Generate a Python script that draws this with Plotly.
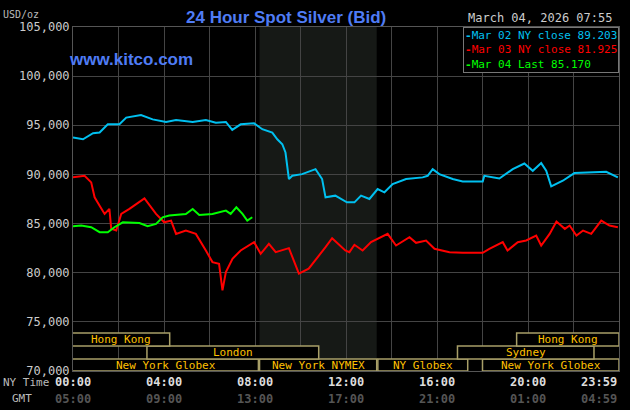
import plotly.graph_objects as go

# Mar 02 NY close series (hours NY time, price)
mar02_hours = [0, .44, .88, 1.17, 1.53, 2.04, 2.34, 2.99, 3.5, 4.09, 4.53, 5.26, 5.84, 6.28, 6.72, 7.0, 7.37, 7.96,
               8.32, 8.76, 8.98, 9.2, 9.34, 9.49, 9.64, 10.07, 10.66, 10.95, 11.1, 11.53, 12.04, 12.37, 12.66, 13.03,
               13.39, 13.69, 14.05, 14.64, 15.37, 15.59, 15.81, 16.1, 16.69, 17.13, 18.01, 18.08, 18.74, 19.33,
               19.84, 20.21, 20.58, 20.8, 21.02, 21.53, 22.04, 22.7, 23.44, 23.95]
mar02_price = [93750, 93580, 94190, 94260, 95100, 95100, 95780, 96050, 95600, 95340, 95540, 95340, 95540, 95270,
               95340, 94530, 95100, 95200, 94600, 94260, 93580, 93070, 92230, 89530, 89860, 90030, 90540, 89530,
               87670, 87840, 87160, 87160, 87840, 87500, 88510, 88180, 89020, 89530, 89700, 89860, 90540, 90030,
               89530, 89290, 89290, 89860, 89590, 90540, 91110, 90370, 91150, 90370, 88780, 89360, 90140, 90200,
               90270, 89700]

mar03_hours = [0, .51, .8, .95, 1.17, 1.39, 1.6, 1.68, 1.9, 2.12, 2.48, 3.14, 3.65, 4.01, 4.31, 4.53, 4.96, 5.4,
               5.84, 6.13, 6.42, 6.57, 6.72, 7.01, 7.37, 7.96, 8.25, 8.61, 8.91, 9.49, 9.93, 10.36, 11.1, 11.39,
               11.97, 12.15, 12.37, 12.73, 13.1, 13.83, 14.2, 14.79, 15.08, 15.52, 15.89, 16.55, 17.13, 18.01,
               18.3, 18.89, 19.1, 19.55, 19.92, 20.36, 20.58, 20.95, 21.25, 21.62, 21.83, 22.13, 22.42, 22.78,
               23.22, 23.58, 23.95]
mar03_price = [89700, 89860, 89190, 87670, 86820, 85980, 86490, 84460, 84290, 85980, 86490, 87570, 85980, 85130,
               85300, 83950, 84290, 83950, 82260, 81080, 80910, 78210, 80070, 81420, 82260, 83110, 81920, 82940,
               82090, 82500, 79900, 80410, 82600, 83510, 82260, 82090, 82840, 82260, 83110, 83950, 82770, 83610,
               83040, 83280, 82430, 82090, 82030, 82030, 82430, 83110, 82260, 83110, 83280, 83780, 82770, 83950,
               85200, 84460, 84800, 83780, 84290, 83950, 85300, 84800, 84630]

mar04_hours = [0, .36, .8, 1.17, 1.53, 1.82, 2.19, 2.92, 3.28, 3.65, 3.94, 4.23, 4.96, 5.26, 5.55, 6.13, 6.72,
               6.93, 7.18, 7.45, 7.66, 7.88]
mar04_price = [84730, 84800, 84630, 84120, 84120, 84630, 85130, 85060, 84730, 84970, 85640, 85810, 85980, 86490,
               85880, 85980, 86320, 85980, 86660, 85980, 85300, 85640]

series_names = ["Mar 02 NY close 89.203", "Mar 03 NY close 81.925", "Mar 04 Last 85.170"]
series_colors = ["#00c0f0", "#ff0000", "#00ff00"]

# trading sessions: label, start hour, end hour, row (0 = bottom)
session_names = ["New York Globex", "New York NYMEX", "NY Globex", "New York Globex", "London", "Sydney",
                 "Hong Kong", "Hong Kong"]
session_start = [-0.3, 8.2, 13.4, 18.0, 3.25, 16.9, -0.3, 19.5]
session_end = [8.15, 13.35, 17.35, 24.0, 10.8, 22.9, 4.25, 24.0]
session_row = [0, 0, 0, 0, 1, 1, 2, 2]
row_edges = [70000, 71220, 72540, 73870]

tick_hours = [0, 4, 8, 12, 16, 20, 24]
ny_labels = ["00:00", "04:00", "08:00", "12:00", "16:00", "20:00", "23:59"]
gmt_labels = ["05:00", "09:00", "13:00", "17:00", "21:00", "01:00", "04:59"]
y_ticks = [70000, 75000, 80000, 85000, 90000, 95000, 100000, 105000]

mono = "DejaVu Sans Mono"
fig = go.Figure()
for hx, py, c in zip([mar02_hours, mar03_hours, mar04_hours], [mar02_price, mar03_price, mar04_price],
                     series_colors):
    fig.add_trace(go.Scatter(x=hx, y=py, mode="lines", line=dict(color=c, width=2), showlegend=False))

# NYMEX shaded period
fig.add_shape(type="rect", x0=8.2, x1=13.35, y0=70000, y1=105000, fillcolor="#161916",
              line=dict(width=0), layer="below")

for name, s, e, r in zip(session_names, session_start, session_end, session_row):
    fig.add_shape(type="rect", x0=s, x1=e, y0=row_edges[r], y1=row_edges[r + 1],
                  line=dict(color="#a89f68", width=1.5), fillcolor="black")
    fig.add_annotation(x=(max(s, 0) + e) / 2, y=(row_edges[r] + row_edges[r + 1]) / 2, text=name,
                       showarrow=False, font=dict(family=mono, size=11, color="#ffc000"))

# time labels, two rows
for i, (h, n, g) in enumerate(zip(tick_hours, ny_labels, gmt_labels)):
    anchor = "right" if i == len(tick_hours) - 1 else "center"
    fig.add_annotation(x=h, y=0, yref="paper", yanchor="top", yshift=-2, xanchor=anchor, text="<b>" + n + "</b>",
                       showarrow=False, font=dict(family=mono, size=12, color="#dddddd"))
    fig.add_annotation(x=h, y=0, yref="paper", yanchor="top", yshift=-19, xanchor=anchor, text="<b>" + g + "</b>",
                       showarrow=False, font=dict(family=mono, size=12, color="#555555"))
fig.add_annotation(x=0, y=0, xref="paper", yref="paper", xanchor="left", yanchor="top", yshift=-3, xshift=-72,
                   text="NY Time", showarrow=False, font=dict(family=mono, size=11, color="#bbbbbb"))
fig.add_annotation(x=0, y=0, xref="paper", yref="paper", xanchor="left", yanchor="top", yshift=-19, xshift=-63,
                   text="GMT", showarrow=False, font=dict(family=mono, size=11, color="#bbbbbb"))
fig.add_annotation(x=0, y=1, xref="paper", yref="paper", xanchor="left", yanchor="bottom", xshift=-72, yshift=5,
                   text="USD/oz", showarrow=False, font=dict(family=mono, size=10, color="#bbbbbb"))
fig.add_annotation(x=0, y=0.94, xref="paper", yref="paper", xanchor="left", xshift=-6, text="<b>www.kitco.com</b>",
                   showarrow=False, font=dict(family="Liberation Sans", size=17, color="#4f7cf5"))
fig.add_annotation(x=0.39, y=1.0, xref="paper", yref="paper", yanchor="bottom", yshift=-2,
                   text="<b>24 Hour Spot Silver (Bid)</b>", showarrow=False,
                   font=dict(family="Liberation Sans", size=17, color="#4f7cf5"))
fig.add_annotation(x=1.0, y=1.0, xref="paper", yref="paper", xanchor="right", yanchor="bottom", xshift=-4,
                   text="March 04, 2026 07:55", showarrow=False, font=dict(family=mono, size=12, color="#cccccc"))

# legend box
legend_text = "<br>".join("<span style='color:%s'><b>-</b>%s</span>" % (c, n)
                          for n, c in zip(series_names, series_colors))
fig.add_annotation(x=1, y=1, xref="paper", yref="paper", xanchor="right", yanchor="top", align="left",
                   text=legend_text, showarrow=False, bgcolor="black", bordercolor="#777777", borderwidth=1,
                   borderpad=1, font=dict(family=mono, size=11))

fig.update_layout(
    width=630, height=410, margin=dict(l=73, r=11, t=27, b=39),
    paper_bgcolor="black", plot_bgcolor="black",
    font=dict(family=mono, color="#cccccc"), showlegend=False,
    xaxis=dict(range=[0, 24], tickvals=list(range(0, 25, 2)), showticklabels=False, showgrid=True,
               gridcolor="#444444", zeroline=False, showline=True, linecolor="#555555", mirror=True,
               automargin=False),
    yaxis=dict(range=[70000, 105000], tickvals=y_ticks, tickformat=",d", gridcolor="#444444", zeroline=False,
               showline=True, linecolor="#555555", mirror=True, automargin=False,
               tickfont=dict(family=mono, size=12, color="#cccccc")),
)
fig.write_html("out.html", config={"displayModeBar": False},
               post_script="document.body.style.margin='0';document.body.style.background='black';")
